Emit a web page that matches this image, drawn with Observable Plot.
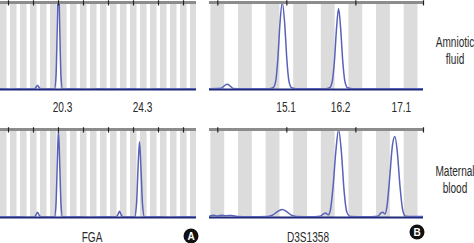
<!DOCTYPE html>
<html>
<head>
<meta charset="utf-8">
<script src="https://cdn.jsdelivr.net/npm/d3@7"></script>
<script src="https://cdn.jsdelivr.net/npm/@observablehq/plot@0.6"></script>
<style>
  html, body { margin: 0; padding: 0; background: #fff; }
  #fig { position: relative; width: 474px; height: 243px; overflow: hidden;
         font-family: "Liberation Sans", Arial, sans-serif; color: #2a2a2a; }
  .panel { position: absolute; }
  .lbl { position: absolute; font-size: 14px; line-height: 17px; text-align: center; white-space: nowrap;
         transform: translate(-50%, -50%) scaleX(0.72); }
  .circ { position: absolute; width: 15px; height: 15px; border-radius: 50%; background: #111; color: #fff;
          font: bold 10px "Liberation Sans", sans-serif; text-align: center; line-height: 15px; transform: translate(-50%, -50%); }
</style>
</head>
<body>
<div id="fig"></div>
<script>
// ---- data ----
const fgaDomain = [200, 239.2];           // size (bp)
const d3sDomain = [110, 125.5];
const fgaBins = [200,202,204,206,208,210,212,214,216,218,220,222,224,226,228,230,232,234,236,238];
const fgaBinWidth = 1.3;
const d3sBins = [110.1,112.1,114.1,116.1,118.1,120.1,122.1,124.1];
const d3sBinWidth = 1.0;
const fgaTicks = [201.6,206.6,211.6,216.6,221.6,226.6,231.6,236.6];
const d3sTicks = [110.6,115.6,120.6,125.5];
const fgaAlleleLabels = ["20.3","24.3"];
const fgaAllelePos = [212.4, 228.4];
const d3sAlleleLabels = ["15.1","16.2","17.1"];
const d3sAllelePos = [115.55, 119.5, 123.9];

const fgaAmniotic = [[200,0.8],[202,0.4],[204,0.9],[205.5,0.5],[206.7,0.6],[207.1,2.5],[207.4,5],[207.7,2.5],[208.1,0.6],[209.5,0.8],[210.8,0.5],[211.1,15],[211.35,70],[211.6,130],[211.85,70],[212.1,15],[212.4,0.5],[214,0.9],[217,0.4],[220,0.9],[223,0.5],[226,0.8],[229,0.4],[232,0.9],[235,0.5],[237,0.8],[239.2,0.5]];
const fgaMaternal = [[200,0.6],[203,0.9],[205.5,0.4],[206.8,0.6],[207.1,3],[207.4,6],[207.7,3],[208.1,0.6],[210.8,0.5],[211.1,15],[211.35,60],[211.6,100],[211.85,60],[212.1,15],[212.4,0.5],[215,0.8],[218,0.4],[221,0.9],[223.1,0.6],[223.5,3.5],[223.8,7],[224.1,3.5],[224.5,0.6],[226.8,0.5],[227.2,15],[227.5,55],[227.8,86],[228.1,55],[228.4,15],[228.8,0.5],[231,0.8],[234,0.4],[237,0.9],[239.2,0.5]];
const d3sAmniotic = [[110,0.8],[110.5,1.2],[110.85,1.5],[111.05,4],[111.28,6],[111.5,4],[111.7,1.2],[112.5,0.8],[113.5,1],[114.3,0.8],[114.6,2],[114.8,10],[114.95,35],[115.1,75],[115.27,100],[115.45,75],[115.6,35],[115.75,10],[115.95,2],[116.3,0.8],[117.5,1],[118.4,0.8],[118.7,2],[118.9,10],[119.05,33],[119.2,70],[119.35,93],[119.5,70],[119.65,33],[119.8,10],[120.0,2],[120.4,0.8],[121.5,1],[122.5,0.8],[123.5,1],[124.5,0.8],[125.5,1]];
const d3sMaternal = [[110,1.5],[110.3,2.5],[110.6,1.8],[110.9,2.6],[111.2,2],[111.6,2.4],[112,1.2],[113,0.9],[114.2,1.2],[114.6,3],[114.9,6.5],[115.27,9],[115.6,6.5],[115.9,3],[116.3,1.2],[117.3,0.9],[118.0,1.5],[118.25,4],[118.41,5],[118.6,3],[118.75,8],[118.95,35],[119.15,75],[119.35,100],[119.55,75],[119.75,30],[119.95,6],[120.2,1.2],[121.3,0.9],[122.2,1.5],[122.4,5],[122.55,6],[122.7,4],[122.85,12],[123.05,45],[123.25,82],[123.43,92],[123.6,75],[123.8,35],[124.0,8],[124.2,1.5],[125.5,1]];

// ---- drawing ----
const FONT = '"Liberation Sans", Arial, sans-serif';
function panel({domain, bins, binWidth, ticks, trace, width, height, marginBottom, labels, labelPos}) {
  const marks = [
    Plot.rect(bins, {x1: d => d, x2: d => d + binWidth, fill: "#dcdcdc", clip: true}),
    Plot.ruleY([0], {stroke: "#1f2a78", strokeWidth: 2}),
    Plot.line(trace, {x: d => d[0], y: d => d[1], stroke: "#5862b8", strokeWidth: 1.5, curve: "monotone-x", clip: true}),
    Plot.ruleY([100], {stroke: "#8c8c8c", strokeWidth: 3}),
    Plot.ruleX(ticks, {y1: 102, y2: 96, stroke: "#222", strokeWidth: 1.2})
  ];
  if (labels) {
    marks.push(Plot.text(labels, {x: (d, i) => labelPos[i], text: d => d, frameAnchor: "bottom", dy: 18,
      lineAnchor: "middle", fontSize: 14, fill: "#2a2a2a"}));
  }
  return Plot.plot({
    width, height, marginLeft: 0, marginRight: 0, marginTop: 2, marginBottom,
    style: {fontFamily: FONT, background: "transparent", overflow: "visible"},
    x: {domain, axis: null},
    y: {domain: [0, 100], axis: null},
    marks
  });
}

const fig = document.getElementById("fig");
function place(svg, left, top) {
  const wrap = document.createElement("div");
  wrap.className = "panel";
  wrap.style.left = left + "px";
  wrap.style.top = top + "px";
  wrap.appendChild(svg);
  fig.appendChild(wrap);
  // condensed look: squeeze tick-label glyphs horizontally
  svg.querySelectorAll("text").forEach(t => {
    const len = t.getComputedTextLength();
    if (len > 0) {
      t.setAttribute("textLength", (len * 0.72).toFixed(1));
      t.setAttribute("lengthAdjust", "spacingAndGlyphs");
    }
  });
}
place(panel({domain: fgaDomain, bins: fgaBins, binWidth: fgaBinWidth, ticks: fgaTicks, trace: fgaAmniotic,
  width: 196, height: 115, marginBottom: 26, labels: fgaAlleleLabels, labelPos: fgaAllelePos}), 0, 0);
place(panel({domain: d3sDomain, bins: d3sBins, binWidth: d3sBinWidth, ticks: d3sTicks, trace: d3sAmniotic,
  width: 214, height: 115, marginBottom: 26, labels: d3sAlleleLabels, labelPos: d3sAllelePos}), 209, 0);
place(panel({domain: fgaDomain, bins: fgaBins, binWidth: fgaBinWidth, ticks: fgaTicks, trace: fgaMaternal,
  width: 196, height: 91, marginBottom: 1}), 0, 127);
place(panel({domain: d3sDomain, bins: d3sBins, binWidth: d3sBinWidth, ticks: d3sTicks, trace: d3sMaternal,
  width: 214, height: 91, marginBottom: 1}), 209, 127);

const texts = [
  {t: "Amniotic<br>fluid", x: 455, y: 51},
  {t: "Maternal<br>blood", x: 455, y: 180},
  {t: "FGA", x: 92, y: 237},
  {t: "D3S1358", x: 308, y: 237}
];
for (const d of texts) {
  const el = document.createElement("div");
  el.className = "lbl";
  el.style.left = d.x + "px"; el.style.top = d.y + "px";
  el.innerHTML = d.t;
  fig.appendChild(el);
}
for (const c of [{t: "A", x: 191, y: 236}, {t: "B", x: 417, y: 232}]) {
  const el = document.createElement("div");
  el.className = "circ";
  el.style.left = c.x + "px"; el.style.top = c.y + "px";
  el.textContent = c.t;
  fig.appendChild(el);
}
</script>
</body>
</html>
